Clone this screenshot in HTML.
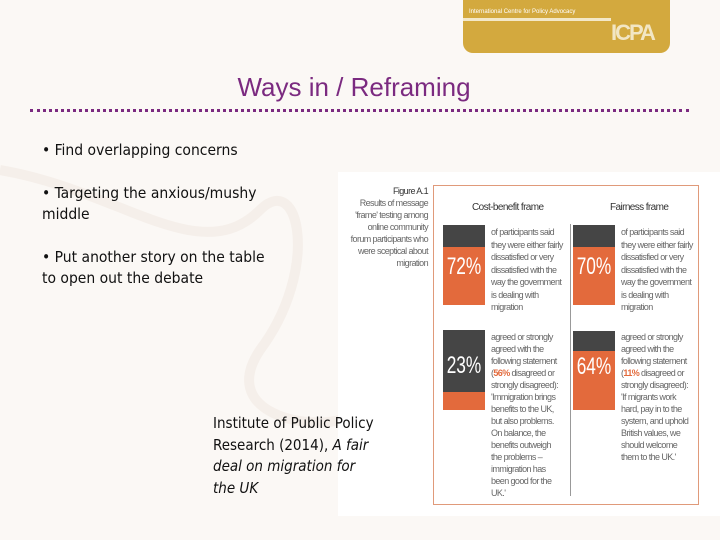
<!DOCTYPE html>
<html><head><meta charset="utf-8">
<style>
body{margin:0;width:720px;height:540px;overflow:hidden;background:#fbf8f5;font-family:"Liberation Sans",sans-serif;position:relative}
.abs{position:absolute}
.bul{font-family:"DejaVu Sans Condensed","Liberation Sans",sans-serif;font-size:15.5px;color:#111;line-height:21px}
.small{font-family:"Liberation Sans",sans-serif;font-size:9px;color:#666;line-height:12px;letter-spacing:-0.6px}
.blk{position:absolute;width:42px}
.pct{position:absolute;left:-10px;width:62px;text-align:center;color:#fff;font-family:"Liberation Sans",sans-serif;font-size:24px;transform:scaleX(0.72)}
</style></head><body>
<svg class="abs" style="left:0;top:150px" width="340" height="300">
<path d="M0 20 C120 40 200 120 260 60 C300 20 320 120 260 200 C220 260 300 280 340 270" stroke="#f1e9e2" stroke-width="10" fill="none" opacity="0.6"/>
</svg>
<div class="abs" style="left:463px;top:0;width:207px;height:53px;background:#d3a93e;border-radius:0 0 10px 10px">
<div class="abs" style="left:6px;top:9px;font-size:6px;color:#fff;white-space:nowrap">International Centre for Policy Advocacy</div>
<div class="abs" style="left:0;top:18px;width:148px;height:3px;background:#f3e8c8"></div>
<div class="abs" style="left:148px;top:20px;font-size:22px;font-weight:bold;color:#f2e6c4;letter-spacing:-2px">ICPA</div>
</div>
<div class="abs" style="left:0;width:708px;top:72px;text-align:center;font-size:26px;color:#7b2a80">Ways in / Reframing</div>
<div class="abs" style="left:30px;top:109px;width:659px;border-top:3px dotted #7b2a80"></div>
<div class="abs bul" style="left:42px;top:140px">• Find overlapping concerns</div>
<div class="abs bul" style="left:42px;top:183px;width:240px">• Targeting the anxious/mushy middle</div>
<div class="abs bul" style="left:42px;top:247px;width:240px">• Put another story on the table to open out the debate</div>

<div class="abs" style="left:338px;top:172px;width:382px;height:344px;background:#fff">
<div class="abs small" style="left:8px;top:13px;width:82px;text-align:right"><span style="color:#333">Figure A.1</span><br>Results of message 'frame' testing among online community forum participants who were sceptical about migration</div>
<div class="abs" style="left:95px;top:13px;width:264px;height:318px;border:1.5px solid #e09a7a"></div>
<div class="abs" style="left:232px;top:52px;width:1px;height:272px;background:#999"></div>
<div class="abs small" style="left:134px;top:30px;font-size:10px;color:#333">Cost-benefit frame</div>
<div class="abs small" style="left:272px;top:30px;font-size:10px;color:#333">Fairness frame</div>

<div class="blk" style="left:105px;top:53px;height:80px;background:#e36a3c"><div style="height:22px;background:#454545"></div><div class="pct" style="top:28px">72%</div></div>
<div class="abs small" style="left:153px;top:54px;width:75px;line-height:12.5px">of participants said they were either fairly dissatisfied or very dissatisfied with the way the government is dealing with migration</div>
<div class="blk" style="left:235px;top:53px;height:80px;background:#e36a3c"><div style="height:22px;background:#454545"></div><div class="pct" style="top:28px">70%</div></div>
<div class="abs small" style="left:283px;top:54px;width:75px;line-height:12.5px">of participants said they were either fairly dissatisfied or very dissatisfied with the way the government is dealing with migration</div>

<div class="blk" style="left:105px;top:158px;height:80px;background:#e36a3c"><div style="height:62px;background:#454545"></div><div class="pct" style="top:22px">23%</div></div>
<div class="abs small" style="left:153px;top:159px;width:72px">agreed or strongly agreed with the following statement (<b style="color:#e36a3c">56%</b> disagreed or strongly disagreed): 'Immigration brings benefits to the UK, but also problems. On balance, the benefits outweigh the problems – immigration has been good for the UK.'</div>
<div class="blk" style="left:235px;top:159px;height:79px;background:#e36a3c"><div style="height:20px;background:#454545"></div><div class="pct" style="top:22px">64%</div></div>
<div class="abs small" style="left:283px;top:159px;width:72px">agreed or strongly agreed with the following statement (<b style="color:#e36a3c">11%</b> disagreed or strongly disagreed): 'If migrants work hard, pay in to the system, and uphold British values, we should welcome them to the UK.'</div>
</div>
<div class="abs bul" style="left:213px;top:413px;width:200px;line-height:21.5px;font-size:15px;white-space:nowrap">Institute of Public Policy<br>Research (2014), <i>A fair</i><br><i>deal on migration for</i><br><i>the UK</i></div>
</body></html>
